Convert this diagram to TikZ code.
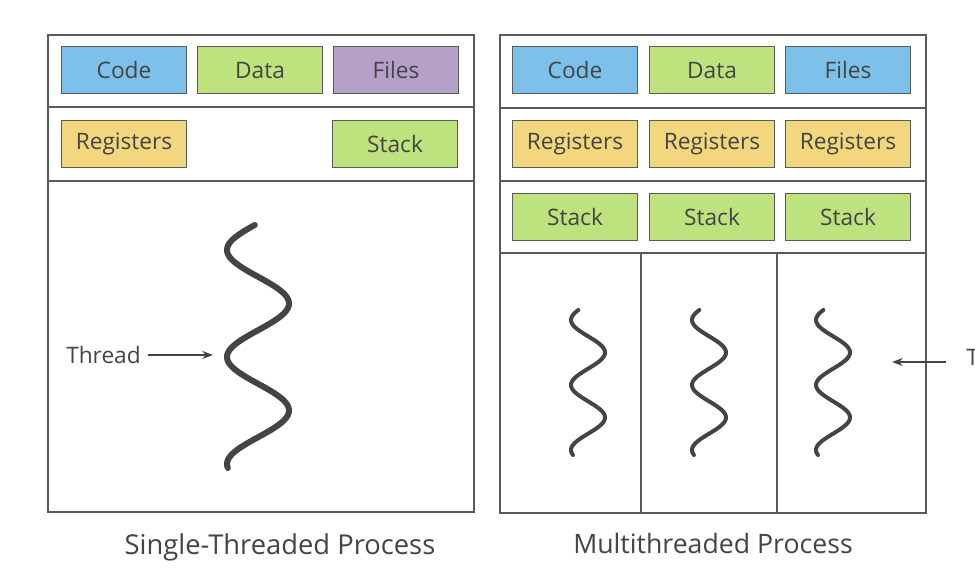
\documentclass[tikz,border=0pt]{standalone}
\usepackage{fontspec}
\setmainfont{Open Sans}
\usetikzlibrary{arrows.meta}
\definecolor{cblue}{HTML}{7DC1EA}
\definecolor{cgreen}{HTML}{BDE27E}
\definecolor{cpurple}{HTML}{B5A0C8}
\definecolor{cyellow}{HTML}{F3D77E}
\definecolor{txt}{HTML}{444444}
\definecolor{edge}{HTML}{5A5A5A}
\begin{document}
\begin{tikzpicture}[x=0.75pt,y=-0.75pt,
  frame/.style={draw=edge,line width=1pt},
  cell/.style={draw=edge,line width=0.8pt,minimum width=93.75pt,minimum height=35.25pt,inner sep=0pt,anchor=north west,text=txt,font=\fontsize{17}{18}\selectfont},
  lbl/.style={text=txt,font=\fontsize{17}{18}\selectfont},
  thr/.style={draw=txt,line cap=round},
  arr/.style={draw=txt,line width=1.2pt,-{Stealth[length=8pt,width=6pt]}}]
\useasboundingbox (0,0) rectangle (975,580);
\clip (0,0) rectangle (975,580);
\fill[white] (0,0) rectangle (975,580);
% left
\draw[frame] (48,35) rectangle (474,512);
\draw[frame] (48,107) -- (474,107);
\draw[frame] (48,181) -- (474,181);
\node[cell,fill=cblue] (c1) at (61,46) {Code};
\node[cell,fill=cgreen] (d1) at (197,46) {Data};
\node[cell,fill=cpurple] (f1) at (333,46) {Files};
\node[cell,fill=cyellow] (r1) at (61,120) {Registers};
\node[cell,fill=cgreen] (s1) at (332,120) {Stack};
\draw[thr,line width=4.5pt] plot[domain=225:468,samples=120,smooth] ({258-31*cos(3.3645*(\x-250))},\x);
\node[lbl,anchor=west,inner sep=0pt] (t1) at (66,355) {Thread};
\coordinate (t1e) at (213,355);
\draw[arr] (t1.east) ++(5pt,0) -- (t1e);
\node[lbl,font=\fontsize{20.5}{24}\selectfont] (cap1) at (280,547) {Single-Threaded Process};
% right
\draw[frame] (500,35) rectangle (926,513);
\foreach \y in {108,181,253} \draw[frame] (500,\y) -- (926,\y);
\draw[frame] (641,253) -- (641,513);
\draw[frame] (777,253) -- (777,513);
\node[cell,fill=cblue] (c2) at (512,46) {Code};
\node[cell,fill=cgreen] (d2) at (649,46) {Data};
\node[cell,fill=cblue] (f2) at (785,46) {Files};
\node[cell,fill=cyellow] (r2a) at (512,120) {Registers};
\node[cell,fill=cyellow] (r2b) at (649,120) {Registers};
\node[cell,fill=cyellow] (r2c) at (785,120) {Registers};
\node[cell,fill=cgreen] (s2a) at (512,193) {Stack};
\node[cell,fill=cgreen] (s2b) at (649,193) {Stack};
\node[cell,fill=cgreen] (s2c) at (785,193) {Stack};
\foreach \cx in {588,709,833}
  \draw[thr,line width=3pt] plot[domain=310:455,samples=100,smooth] ({\cx-17*cos(5.5385*(\x-320))},\x);
\coordinate (a2s) at (946,362);
\coordinate (a2e) at (892,362);
\draw[arr] (a2s) -- (a2e);
\node[lbl,anchor=west,inner sep=0pt] (t2) at (966,357) {Thread};
\node[lbl,font=\fontsize{20}{24}\selectfont] (cap2) at (713,544) {Multithreaded Process};
\end{tikzpicture}
\end{document}
